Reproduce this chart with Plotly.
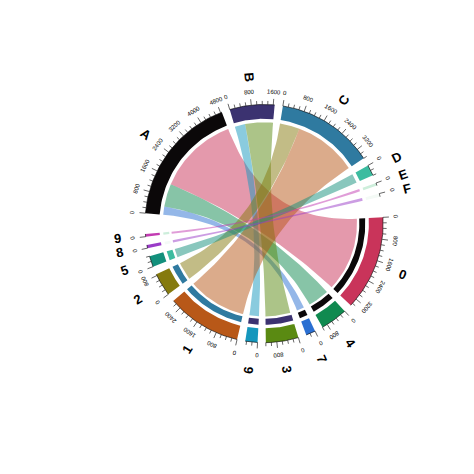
import numpy as np
import plotly.graph_objects as go

# sectors, clockwise from 3 o'clock
targets = ["0", "4", "7", "3", "6", "1", "2", "5", "8", "9"]
sources = ["A", "B", "C", "D", "E", "F"]

# links (source -> target), listed in the order they sit inside each source sector
link_from = ["A", "A", "A", "B", "B", "C", "C", "D", "E", "F"]
link_to = ["7", "4", "0", "6", "3", "2", "1", "5", "9", "8"]
link_value = [350, 1000, 3500, 450, 1200, 850, 2750, 400, 100, 120]

sector_colors = {
    "A": "#0b0809", "B": "#3b3270", "C": "#2f7aa0", "D": "#3cbca0",
    "E": "#cdeedb", "F": "#f4faf6",
    "0": "#c9345a", "4": "#108a50", "7": "#2a6fd2", "3": "#5a8a12",
    "6": "#1597bd", "1": "#b85818", "2": "#857a0e", "5": "#13907c",
    "8": "#9a3cc8", "9": "#c23bb2",
}

SMALL_GAP = 4.0
BIG_GAP = 10.0
START_DEG = 3.0
MAJOR = 800
MINOR = 200


def rgba(hexc, a):
    h = hexc.lstrip("#")
    return "rgba(%d,%d,%d,%.2f)" % (int(h[0:2], 16), int(h[2:4], 16), int(h[4:6], 16), a)


def pol(r, deg):
    t = np.radians(deg)
    return r * np.cos(t), r * np.sin(t)


def arc(r, a1, a2, n=40):
    a = np.linspace(a1, a2, n)
    return list(r * np.cos(np.radians(a))), list(r * np.sin(np.radians(a)))


def band(r1, r2, a1, a2):
    x1, y1 = arc(r2, a1, a2)
    x2, y2 = arc(r1, a2, a1)
    return x1 + x2 + [x1[0]], y1 + y2 + [y1[0]]


# sector totals
totals = {s: 0 for s in sources + targets}
for f, t, v in zip(link_from, link_to, link_value):
    totals[f] += v
    totals[t] += v

grand = sum(totals.values())
avail = 360 - SMALL_GAP * (len(targets) - 1 + len(sources) - 1) - 2 * BIG_GAP
per_deg = grand / avail

start = {}
ang = START_DEG
for grp in (targets, sources):
    for i, s in enumerate(grp):
        start[s] = ang
        ang -= totals[s] / per_deg
        ang -= SMALL_GAP if i < len(grp) - 1 else BIG_GAP

fig = go.Figure()

# links
used = {s: 0 for s in totals}
R_SRC, R_TGT = 0.85, 0.78
inner_tracks = []
for f, t, v in zip(link_from, link_to, link_value):
    s1 = start[f] - used[f] / per_deg
    s2 = s1 - v / per_deg
    t1 = start[t] - used[t] / per_deg
    t2 = t1 - v / per_deg
    used[f] += v
    used[t] += v
    inner_tracks.append((t1, t2, f))
    xs, ys = arc(R_SRC, s1, s2)
    p0 = np.array(pol(R_SRC, s2))
    p2 = np.array(pol(R_TGT, t1))
    tt = np.linspace(0, 1, 40)
    bx = (1 - tt) ** 2 * p0[0] + tt ** 2 * p2[0]
    by = (1 - tt) ** 2 * p0[1] + tt ** 2 * p2[1]
    xt, yt = arc(R_TGT, t1, t2)
    q0 = np.array(pol(R_TGT, t2))
    q2 = np.array(pol(R_SRC, s1))
    cx = (1 - tt) ** 2 * q0[0] + tt ** 2 * q2[0]
    cy = (1 - tt) ** 2 * q0[1] + tt ** 2 * q2[1]
    fig.add_trace(go.Scatter(
        x=xs + list(bx) + xt + list(cx), y=ys + list(by) + yt + list(cy),
        fill="toself", fillcolor=rgba(sector_colors[t], 0.5),
        line=dict(width=0), mode="lines", hoverinfo="skip", showlegend=False))

# inner track on target sectors, coloured by source
for t1, t2, f in inner_tracks:
    x, y = band(0.80, 0.85, t1, t2)
    fig.add_trace(go.Scatter(x=x, y=y, fill="toself", fillcolor=sector_colors[f],
                             line=dict(width=0), mode="lines", hoverinfo="skip", showlegend=False))

# outer sector blocks, axes and labels
tick_x, tick_y = [], []
annotations = []
for s in targets + sources:
    a1 = start[s]
    a2 = a1 - totals[s] / per_deg
    x, y = band(0.88, 1.0, a1, a2)
    fig.add_trace(go.Scatter(x=x, y=y, fill="toself", fillcolor=sector_colors[s],
                             line=dict(width=0), mode="lines", hoverinfo="skip", showlegend=False))
    ax, ay = arc(1.0, a1, a2)
    tick_x += ax + [None]
    tick_y += ay + [None]
    for v in range(0, totals[s] + 1, MINOR):
        a = a1 - v / per_deg
        major = v % MAJOR == 0
        xa, ya = pol(1.0, a)
        xb, yb = pol(1.05 if major else 1.03, a)
        tick_x += [xa, xb, None]
        tick_y += [ya, yb, None]
        if major:
            lx, ly = pol(1.11, a)
            ta = ((90 - a) + 180) % 360 - 180
            annotations.append(dict(x=lx, y=ly, text=str(v), showarrow=False, textangle=ta,
                                    font=dict(size=6, color="black", family="Liberation Sans")))
    mid = (a1 + a2) / 2
    lx, ly = pol(1.24, mid)
    ta = ((-mid) + 180) % 360 - 180
    if abs(ta) > 90:
        ta = ta - 180 if ta > 0 else ta + 180
    annotations.append(dict(x=lx, y=ly, text="<b>%s</b>" % s, showarrow=False, textangle=ta,
                            font=dict(size=13, color="black", family="Liberation Sans")))

fig.add_trace(go.Scatter(x=tick_x, y=tick_y, mode="lines", line=dict(color="black", width=0.6),
                         hoverinfo="skip", showlegend=False))

fig.update_layout(
    width=474, height=474, margin=dict(l=0, r=0, t=0, b=0),
    paper_bgcolor="white", plot_bgcolor="white",
    xaxis=dict(range=[-2.15, 1.83], visible=False),
    yaxis=dict(range=[-2.17, 1.81], visible=False),
    annotations=annotations,
)

fig.write_html("out.html")
